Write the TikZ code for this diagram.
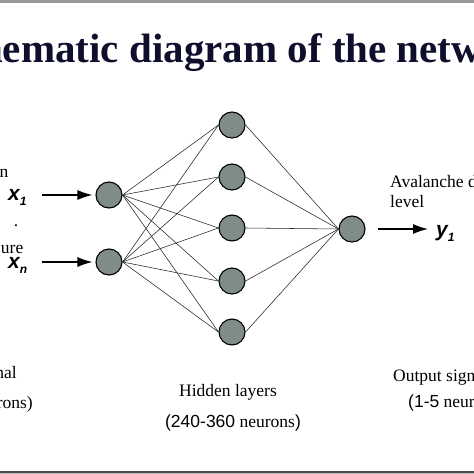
\documentclass[tikz,border=0pt]{standalone}
\usepackage{fontspec}
\setmainfont{Liberation Serif}
\newfontfamily\arialf{Liberation Sans}
\usetikzlibrary{arrows.meta}
\definecolor{nodegray}{RGB}{128,140,138}
\definecolor{titleblue}{RGB}{15,15,45}
\begin{document}
\begin{tikzpicture}[x=1pt,y=-1pt,
  neuron/.style={circle, draw=black, line width=1.1pt, fill=nodegray, minimum size=26pt, inner sep=0pt},
  link/.style={draw=black!85, line width=0.55pt},
  sig/.style={-{Latex[length=15pt,width=10pt]}, line width=1.3pt},
  lbl/.style={inner sep=0pt, font=\fontsize{17.5}{20}\selectfont},
  var/.style={inner sep=0pt, font=\arialf\bfseries\itshape\fontsize{21}{24}\selectfont},
  ttl/.style={inner sep=0pt, text=titleblue, font=\bfseries\fontsize{41}{46}\selectfont}]
\useasboundingbox (0,0) rectangle (474,474);
\clip (0,0) rectangle (474,474);
\fill[white] (0,0) rectangle (474,474);
\fill[black!40] (0,0) rectangle (474,2.5);
\fill[black!70] (0,470.5) rectangle (474,472.5);
\fill[black!25] (0,472.5) rectangle (474,474);
% title
\node[ttl, anchor=base west] (title) at (-61,62) {Schematic diagram of the network};
% neurons
\node[neuron] (i1) at (109,195) {};
\node[neuron] (i2) at (109,262) {};
\node[neuron] (h1) at (232,125) {};
\node[neuron] (h2) at (232,177) {};
\node[neuron] (h3) at (232,228) {};
\node[neuron] (h4) at (232,281) {};
\node[neuron] (h5) at (232,332) {};
\node[neuron] (o1) at (352,229) {};
% links
\foreach \i in {i1,i2}{\foreach \h in {h1,h2,h3,h4,h5}{\draw[link] (\i.east) -- (\h.west);}}
\foreach \h in {h1,h2,h3,h4,h5}{\draw[link] (\h.east) -- (o1.west);}
% signal arrows
\coordinate (s1) at (42,195);
\coordinate (s2) at (42,262);
\coordinate (so) at (428,229);
\draw[sig, shorten >=3pt] (s1) -- (i1.west);
\draw[sig, shorten >=3pt] (s2) -- (i2.west);
\draw[sig, shorten <=12pt] (o1.east) -- (so);
% variables
\node[var, anchor=base west] (x1) at (8,200) {x\raisebox{-5pt}{\fontsize{12}{12}\selectfont 1}};
\node[var, anchor=base west] (xn) at (8,268) {x\raisebox{-5pt}{\fontsize{12}{12}\selectfont n}};
\node[lbl, anchor=base] (dot) at (16,226) {.};
\node[var, anchor=base west] (y1) at (436,236) {y\raisebox{-5pt}{\fontsize{12}{12}\selectfont 1}};
% left labels (cut by frame)
\node[lbl, anchor=base east] (l1) at (8.5,177) {n};
\node[lbl, anchor=base east] (l2) at (23.5,253) {ure};
\node[lbl, anchor=base east] (l3) at (17,378) {nal};
\node[lbl, anchor=base east] (l4) at (33,408) {rons)};
% hidden labels
\node[lbl, anchor=base] (hl1) at (228,396) {Hidden layers};
\node[lbl, anchor=base] (hl2) at (233,427) {{\arialf(240-360} neurons{\arialf)}};
% right labels
\node[lbl, anchor=base west] (r1) at (390,187) {Avalanche danger};
\node[lbl, anchor=base west] (r2) at (390,207) {level};
\node[lbl, anchor=base west] (r3) at (393,381) {Output signal};
\node[lbl, anchor=base west] (r4) at (408,407) {{\arialf(1-5} neurons{\arialf)}};
\end{tikzpicture}
\end{document}
